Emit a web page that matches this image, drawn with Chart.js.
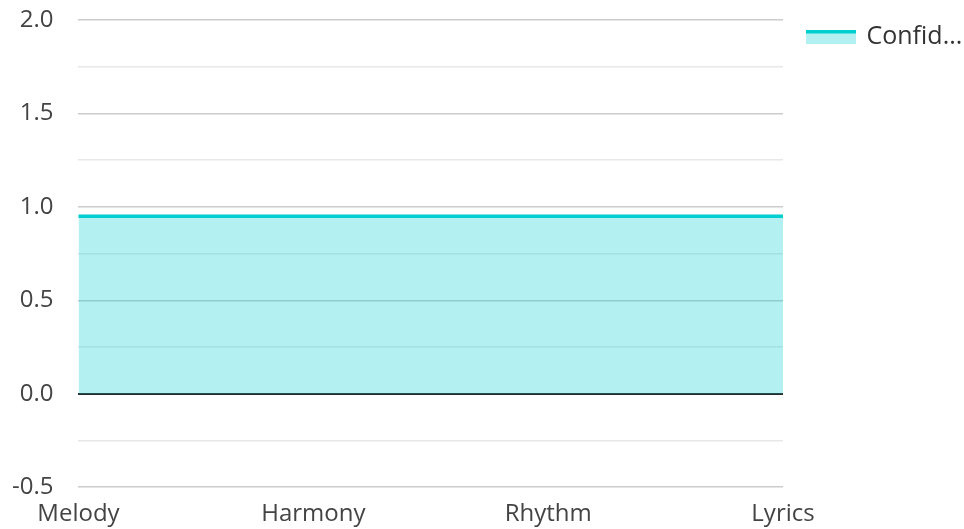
<!DOCTYPE html>
<html>
<head>
<meta charset="utf-8">
<script src="https://cdn.jsdelivr.net/npm/chart.js@4"></script>
<style>
  html, body { margin: 0; padding: 0; background: #fff; }
  #wrap { width: 964px; height: 529px; }
</style>
</head>
<body>
<div id="wrap"><canvas id="grafico"></canvas></div>
<script>
const categorias = ["Melody", "Harmony", "Rhythm", "Lyrics"];
const confianza = [0.95, 0.95, 0.95, 0.95];
const serieNombre = "Confidence";
const leyendaTexto = "Confid...";
const yMin = -0.5, yMax = 2.0, yPaso = 0.25;

const turquesa = "#00ced1";
const relleno = "rgba(0, 206, 209, 0.3)";
const familia = "'Open Sans', 'Noto Sans', sans-serif";
const fuenteEjes = { family: familia, size: 24 };
const fuenteLeyenda = { family: familia, size: 25 };

// muestra de la leyenda: linea arriba, relleno abajo
function muestraLeyenda() {
  const c = document.createElement("canvas");
  c.width = 50; c.height = 14;
  const g = c.getContext("2d");
  g.fillStyle = relleno;
  g.fillRect(0, 0, 50, 14);
  g.fillStyle = turquesa;
  g.fillRect(0, 0, 50, 4);
  return c;
}
const muestra = muestraLeyenda();

const esMayor = v => Math.abs(v * 2 - Math.round(v * 2)) < 1e-9;

new Chart(document.getElementById("grafico").getContext("2d"), {
  type: "line",
  data: {
    labels: categorias,
    datasets: [{
      label: serieNombre,
      data: confianza,
      borderColor: turquesa,
      backgroundColor: relleno,
      borderWidth: 3.5,
      pointRadius: 0,
      fill: "origin",
      tension: 0
    }]
  },
  options: {
    responsive: true,
    maintainAspectRatio: false,
    animation: false,
    layout: { autoPadding: false, padding: { top: 20, left: 9, right: 1, bottom: -13 } },
    plugins: {
      tooltip: { enabled: false },
      legend: {
        position: "right",
        align: "start",
        labels: {
          font: fuenteLeyenda,
          color: "#333",
          usePointStyle: true,
          pointStyleWidth: 46,
          boxHeight: 14,
          padding: 4,
          generateLabels: chart => {
            const items = Chart.defaults.plugins.legend.labels.generateLabels(chart);
            items.forEach(it => { it.text = leyendaTexto; it.pointStyle = muestra; });
            return items;
          }
        }
      }
    },
    scales: {
      x: {
        offset: false,
        grid: { display: false, drawTicks: false },
        border: { display: false },
        ticks: { font: fuenteEjes, color: "#444", padding: 13, maxRotation: 0 }
      },
      y: {
        min: yMin,
        max: yMax,
        border: { display: false },
        grid: {
          drawTicks: true,
          tickLength: 22,
          tickColor: "rgba(0,0,0,0)",
          color: ctx => ctx.tick.value === 0 ? "#2b2b2b" : (esMayor(ctx.tick.value) ? "#cccccc" : "#e8e8e8"),
          lineWidth: ctx => ctx.tick.value === 0 ? 2 : 1.5
        },
        ticks: {
          stepSize: yPaso,
          font: fuenteEjes,
          color: "#444",
          padding: 3,
          autoSkip: false,
          callback: v => esMayor(v) ? v.toFixed(1) : ""
        }
      },
      // hueco entre el area del grafico y la leyenda
      hueco: {
        position: "right",
        grid: { display: false, drawTicks: false },
        border: { display: false },
        ticks: { display: false },
        afterFit: s => { s.width = 21; }
      }
    }
  }
});
</script>
</body>
</html>
